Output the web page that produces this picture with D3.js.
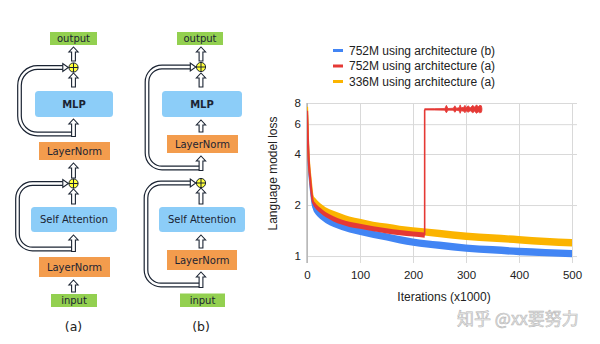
<!DOCTYPE html>
<html>
<head>
<meta charset="utf-8">
<script src="https://cdn.jsdelivr.net/npm/d3@7/dist/d3.min.js"></script>
<style>
  html, body { margin: 0; padding: 0; background: #fff; }
  svg { display: block; }
</style>
</head>
<body>
<div id="figure"></div>
<script>
// training runs, loss vs iterations (x1000)
var seriesNames = ['752M using architecture (b)', '752M using architecture (a)', '336M using architecture (a)'];
var seriesColors = ['#4285f4', '#e53935', '#fbb400'];

var iters = [0, 1, 2, 4, 6, 8, 11, 15, 20, 25, 35, 50, 65, 80, 100, 125, 150, 175, 200, 250, 300, 350, 400, 450, 500];
var lossB752 = [6.8, 5.5, 4.3, 3.2, 2.7, 2.35, 2.0, 1.88, 1.8, 1.74, 1.65, 1.56, 1.5, 1.45, 1.4, 1.345, 1.3, 1.25, 1.21, 1.16, 1.115, 1.09, 1.065, 1.05, 1.035];
var lossA336 = [7.6, 6.0, 4.6, 3.5, 3.0, 2.6, 2.2, 2.1, 2.02, 1.95, 1.85, 1.76, 1.69, 1.63, 1.58, 1.52, 1.48, 1.44, 1.41, 1.36, 1.31, 1.28, 1.25, 1.22, 1.2];

var itersA752 = [0, 1, 2, 4, 6, 8, 11, 15, 20, 25, 35, 50, 65, 80, 100, 125, 150, 175, 200, 222];
var lossA752 = [7.2, 5.8, 4.5, 3.35, 2.85, 2.45, 2.1, 2.0, 1.92, 1.86, 1.76, 1.66, 1.59, 1.54, 1.5, 1.45, 1.41, 1.375, 1.35, 1.33];

// spread of the noisy curves, as a fraction of the loss
var noiseSpread = [0.05, 0.035, 0.05];

// the (a) 752M run after it blows up
var divergedIters = [222, 240, 260, 263, 266, 276, 279, 282, 287, 289, 291, 296, 298, 300, 304, 308, 313, 316, 320, 323, 326, 329, 330];
var divergedLow = [7.28, 7.27, 7.26, 7.0, 7.26, 7.25, 7.05, 7.25, 7.2, 6.95, 7.2, 7.15, 7.0, 7.2, 7.05, 7.2, 7.0, 7.15, 6.95, 7.1, 7.0, 7.05, 7.25];
var divergedHigh = [7.4, 7.41, 7.42, 7.75, 7.42, 7.45, 7.7, 7.45, 7.5, 7.8, 7.5, 7.55, 7.75, 7.5, 7.7, 7.5, 7.75, 7.55, 7.8, 7.6, 7.75, 7.7, 7.45];

var xTicks = [0, 100, 200, 300, 400, 500];
var yTicks = [1, 2, 4, 6, 8];

// block diagram labels
var blockText = { output: 'output', mlp: 'MLP', norm: 'LayerNorm', attn: 'Self Attention', input: 'input' };
var blockFill = { output: '#93d050', mlp: '#8ccdf8', norm: '#f39c4d', attn: '#8ccdf8', input: '#93d050' };
var panelCaptions = ['(a)', '(b)'];

var svg = d3.select('#figure').append('svg')
    .attr('width', 600)
    .attr('height', 344);

var drawBlocks = function () {

  var ink = '#1b2433';

  var upArrow = function (g, cx, yTop, yBottom) {
    var hw = 4.6, sw = 1.9, hh = 5;
    var pts = [
      [cx, yTop], [cx + hw, yTop + hh], [cx + sw, yTop + hh], [cx + sw, yBottom],
      [cx - sw, yBottom], [cx - sw, yTop + hh], [cx - hw, yTop + hh]
    ];
    g.append('path')
        .attr('d', d3.line()(pts) + 'Z')
        .attr('fill', '#fff')
        .attr('stroke', ink)
        .attr('stroke-width', 1.1);
  };

  var skip = function (g, cx, yFrom, xLeft, yTo, plusR, r) {
    var p = d3.path();
    p.moveTo(cx, yFrom);
    p.lineTo(xLeft + r, yFrom);
    p.arcTo(xLeft, yFrom, xLeft, yFrom - r, r);
    p.lineTo(xLeft, yTo + r);
    p.arcTo(xLeft, yTo, xLeft + r, yTo, r);
    p.lineTo(cx - plusR - 5, yTo);
    g.append('path')
        .attr('d', p.toString())
        .attr('fill', 'none')
        .attr('stroke', ink)
        .attr('stroke-width', 4.8);
    g.append('path')
        .attr('d', p.toString())
        .attr('fill', 'none')
        .attr('stroke', '#fff')
        .attr('stroke-width', 2.4);
    var tip = cx - plusR - 0.6;
    g.append('path')
        .attr('d', d3.line()([[tip, yTo], [tip - 5.5, yTo - 4], [tip - 5.5, yTo + 4]]) + 'Z')
        .attr('fill', '#fff')
        .attr('stroke', ink)
        .attr('stroke-width', 1.1);
  };

  var box = function (g, kind, x0, x1, y0, y1) {
    var rounded = kind === 'mlp' || kind === 'attn';
    g.append('rect')
        .attr('x', x0)
        .attr('y', y0)
        .attr('width', x1 - x0)
        .attr('height', y1 - y0)
        .attr('rx', rounded ? 3.5 : 0)
        .attr('fill', blockFill[kind]);
    g.append('text')
        .attr('x', (x0 + x1) / 2)
        .attr('y', (y0 + y1) / 2)
        .attr('dy', '0.36em')
        .attr('text-anchor', 'middle')
        .style('font', (kind === 'mlp' ? '600 ' : '') + '10px "DejaVu Sans", sans-serif')
        .style('fill', ink)
        .text(blockText[kind]);
  };

  var plus = function (g, cx, cy, r) {
    g.append('circle')
        .attr('cx', cx)
        .attr('cy', cy)
        .attr('r', r)
        .attr('fill', '#ffff3a')
        .attr('stroke', ink)
        .attr('stroke-width', 1);
    g.append('path')
        .attr('d', 'M' + (cx - r) + ',' + cy + 'H' + (cx + r) + 'M' + cx + ',' + (cy - r) + 'V' + (cy + r))
        .attr('stroke', ink)
        .attr('stroke-width', 1);
  };

  // post-LN block (a): norm sits after each residual add
  var a = svg.append('g');
  var ax = 73.5, pr = 4.6;
  skip(a, ax, 134, 19.5, 67.5, pr, 18);
  skip(a, ax, 249, 17.5, 183.5, pr, 15);
  box(a, 'output', 50, 97, 32, 45);
  box(a, 'mlp', 35, 113, 91, 117);
  box(a, 'norm', 39, 110, 142, 160);
  box(a, 'attn', 31, 117, 207, 232);
  box(a, 'norm', 39, 110, 257, 277);
  box(a, 'input', 51, 97, 294, 307);
  upArrow(a, ax, 47, 61);
  upArrow(a, ax, 73, 87);
  upArrow(a, ax, 119, 136.5);
  upArrow(a, ax, 163, 178);
  upArrow(a, ax, 189, 204);
  upArrow(a, ax, 235, 251.5);
  upArrow(a, ax, 280, 292);
  plus(a, ax, 67.5, pr);
  plus(a, ax, 183.5, pr);

  // pre-LN block (b): norm inside the residual branch
  var b = svg.append('g');
  var bx = 201;
  skip(b, bx, 168, 147, 67, pr, 15);
  skip(b, bx, 285, 146, 183, pr, 15);
  box(b, 'output', 177, 223, 32, 45);
  box(b, 'mlp', 162, 242, 91, 117);
  box(b, 'norm', 167, 238, 135, 153);
  box(b, 'attn', 159, 245, 207, 232);
  box(b, 'norm', 167, 237, 250, 270);
  box(b, 'input', 180, 225, 293.5, 307);
  upArrow(b, bx, 47, 61);
  upArrow(b, bx, 73, 87);
  upArrow(b, bx, 120, 132);
  upArrow(b, bx, 156, 170.5);
  upArrow(b, bx, 188, 204);
  upArrow(b, bx, 235, 248);
  upArrow(b, bx, 272, 287.5);
  plus(b, bx, 67, pr);
  plus(b, bx, 183, pr);

  svg.selectAll('text.caption')
      .data(panelCaptions)
    .enter().append('text')
      .attr('class', 'caption')
      .attr('x', function (d, i) { return i === 0 ? ax : bx; })
      .attr('y', 326)
      .attr('dy', '0.36em')
      .attr('text-anchor', 'middle')
      .style('font', '12.5px "DejaVu Sans", sans-serif')
      .style('fill', '#222')
      .text(function (d) { return d; });
};

var drawChart = function () {

  var left = 307, right = 577, top = 103, bottom = 263;
  var font = '"Liberation Sans", Arial, sans-serif';

  var x = d3.scaleLinear()
      .domain([0, 500])
      .range([left, 572]);

  var y = d3.scaleLog()
      .domain([0.91, 8])
      .range([bottom, top]);

  svg.append('clipPath')
      .attr('id', 'plot-clip')
    .append('rect')
      .attr('x', left)
      .attr('y', top - 6)
      .attr('width', right - left)
      .attr('height', bottom - top + 6);

  var xAxis = svg.append('g')
      .attr('transform', 'translate(0,' + bottom + ')')
      .call(d3.axisBottom(x).tickValues(xTicks).tickSize(-(bottom - top)).tickPadding(8));

  var yAxis = svg.append('g')
      .attr('transform', 'translate(' + left + ',0)')
      .call(d3.axisLeft(y).tickValues(yTicks).tickFormat(d3.format('d'))
          .tickSize(-(right - left)).tickPadding(6));

  [xAxis, yAxis].forEach(function (ax) {
    ax.select('.domain').remove();
    ax.selectAll('.tick line').style('stroke', '#d9d9d9');
    ax.selectAll('.tick text')
        .style('font', '11.5px ' + font)
        .style('fill', '#222');
  });

  svg.append('line')
      .attr('x1', left)
      .attr('x2', left)
      .attr('y1', top)
      .attr('y2', bottom)
      .style('stroke', '#9a9a9a');

  var plot = svg.append('g').attr('clip-path', 'url(#plot-clip)');

  var runs = [
    { xs: iters, ys: lossB752, color: seriesColors[0], spread: noiseSpread[0] },
    { xs: iters, ys: lossA336, color: seriesColors[2], spread: noiseSpread[2] },
    { xs: itersA752, ys: lossA752, color: seriesColors[1], spread: noiseSpread[1] }
  ];

  runs.forEach(function (run) {
    var pts = run.xs.map(function (it, i) { return { it: it, loss: run.ys[i] }; });

    plot.append('path')
        .datum(pts)
        .attr('d', d3.area()
            .curve(d3.curveMonotoneX)
            .x(function (d) { return x(d.it); })
            .y0(function (d) { return y(d.loss * (1 - run.spread)); })
            .y1(function (d) { return y(d.loss * (1 + run.spread)); }))
        .style('fill', run.color);

    plot.append('path')
        .datum(pts)
        .attr('d', d3.line()
            .curve(d3.curveMonotoneX)
            .x(function (d) { return x(d.it); })
            .y(function (d) { return y(d.loss); }))
        .style('fill', 'none')
        .style('stroke', run.color)
        .style('stroke-width', 2.2);
  });

  // divergence: jump straight up, then the noisy plateau
  var jumpAt = itersA752[itersA752.length - 1];
  plot.append('line')
      .attr('x1', x(jumpAt))
      .attr('x2', x(jumpAt))
      .attr('y1', y(lossA752[lossA752.length - 1]))
      .attr('y2', y(divergedLow[0]))
      .style('stroke', seriesColors[1])
      .style('stroke-width', 1.6);

  plot.append('path')
      .datum(divergedIters.map(function (it, i) {
        return { it: it, lo: divergedLow[i], hi: divergedHigh[i] };
      }))
      .attr('d', d3.area()
          .x(function (d) { return x(d.it); })
          .y0(function (d) { return y(d.lo); })
          .y1(function (d) { return y(d.hi); }))
      .style('fill', seriesColors[1])
      .style('stroke', seriesColors[1])
      .style('stroke-width', 0.8);

  // legend
  var legend = svg.append('g').selectAll('g')
      .data(seriesNames)
    .enter().append('g')
      .attr('transform', function (d, i) { return 'translate(333,' + (50.5 + i * 15.5) + ')'; });

  legend.append('line')
      .attr('x2', 10)
      .style('stroke', function (d, i) { return seriesColors[i]; })
      .style('stroke-width', 3);

  legend.append('text')
      .attr('x', 16)
      .attr('dy', '0.36em')
      .style('font', '12px ' + font)
      .style('fill', '#222')
      .text(function (d) { return d; });

  svg.append('text')
      .attr('x', 444)
      .attr('y', 297)
      .attr('dy', '0.36em')
      .attr('text-anchor', 'middle')
      .style('font', '12px ' + font)
      .style('fill', '#222')
      .text('Iterations (x1000)');

  svg.append('text')
      .attr('transform', 'translate(273,173.5) rotate(-90)')
      .attr('dy', '0.36em')
      .attr('text-anchor', 'middle')
      .style('font', '12px ' + font)
      .style('fill', '#222')
      .text('Language model loss');

  svg.append('text')
      .attr('x', 457)
      .attr('y', 319)
      .attr('dy', '0.36em')
      .style('font', '17px "Noto Sans CJK SC", sans-serif')
      .style('fill', '#ececec')
      .style('stroke', '#b8b8b8')
      .style('stroke-width', 0.6)
      .text('知乎 @xx要努力');
};

drawBlocks();
drawChart();
</script>
</body>
</html>
